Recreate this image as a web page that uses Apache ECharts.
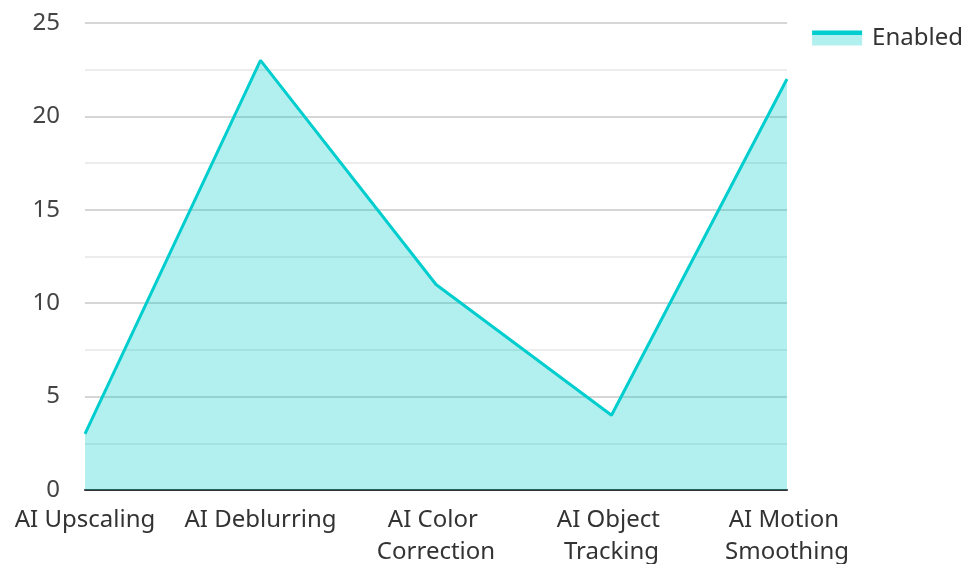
<!DOCTYPE html>
<html>
<head>
<meta charset="utf-8">
<script src="https://cdn.jsdelivr.net/npm/echarts@6/dist/echarts.min.js"></script>
<style>
  html, body { margin: 0; padding: 0; background: #fff; }
  #chart { width: 968px; height: 564px; }
</style>
</head>
<body>
<div id="chart"></div>
<script>
// Feature usage counts per AI feature
const categories = ['AI Upscaling', 'AI Deblurring', 'AI Color Correction', 'AI Object Tracking', 'AI Motion Smoothing'];
const enabledValues = [3, 23, 11, 4, 22];
const seriesName = 'Enabled';

const chart = echarts.init(document.getElementById('chart'));
const font = "'Noto Sans', sans-serif";
const lineColor = '#00cdcd';
const fillColor = '#b2efef';

chart.setOption({
  animation: false,
  grid: { left: 85, right: 181, top: 23, bottom: 74, containLabel: false, outerBoundsMode: 'none' },
  legend: {
    right: 0, top: 21,
    itemWidth: 50, itemHeight: 15,
    itemGap: 10,
    icon: 'rect',
    itemStyle: {
      color: {
        type: 'linear', x: 0, y: 0, x2: 0, y2: 1,
        colorStops: [
          { offset: 0, color: lineColor },
          { offset: 0.27, color: lineColor },
          { offset: 0.27, color: fillColor },
          { offset: 1, color: fillColor }
        ]
      }
    },
    textStyle: { fontFamily: font, fontSize: 24, color: '#333', padding: [0, 0, 0, 5] },
    data: [seriesName]
  },
  xAxis: {
    type: 'category',
    data: categories,
    boundaryGap: false,
    axisLine: { lineStyle: { color: '#333', width: 2 } },
    axisTick: { show: false },
    axisLabel: {
      fontFamily: font, fontSize: 24, color: '#333',
      margin: 14, lineHeight: 32,
      width: 160, overflow: 'break', interval: 0
    }
  },
  yAxis: {
    type: 'value',
    min: 0, max: 25, interval: 5,
    axisLine: { show: false },
    axisTick: { show: false },
    axisLabel: { fontFamily: font, fontSize: 24, color: '#444', margin: 25 },
    splitLine: { lineStyle: { color: '#c8c8c8', width: 1.5 } },
    minorTick: { show: false, splitNumber: 2 },
    minorSplitLine: { show: true, lineStyle: { color: '#e6e6e6', width: 1.5 } }
  },
  series: [{
    name: seriesName,
    type: 'line',
    data: enabledValues,
    symbol: 'none',
    lineStyle: { color: lineColor, width: 3 },
    itemStyle: { color: lineColor },
    areaStyle: { color: lineColor, opacity: 0.3, origin: 'start' },
    z: 2
  }]
});
</script>
</body>
</html>
